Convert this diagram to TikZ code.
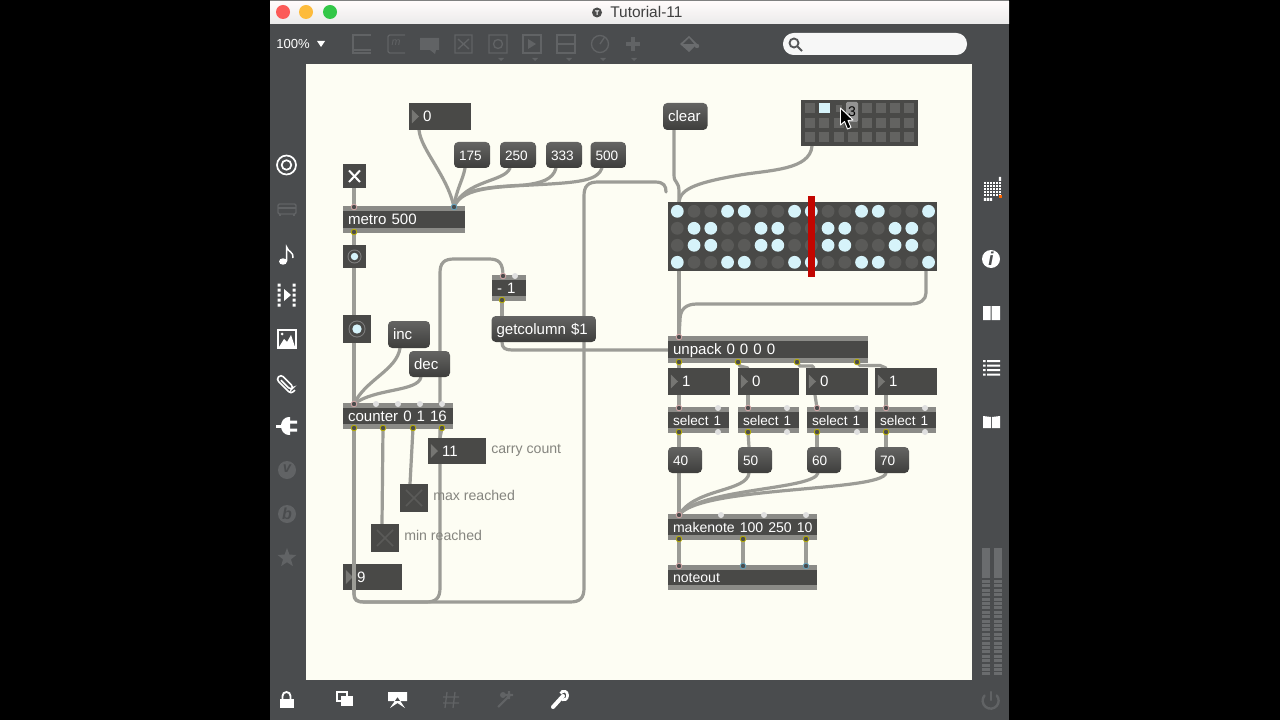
\documentclass[tikz,border=0pt]{standalone}
\usepackage{fontspec}
\setmainfont{Liberation Sans}
\usetikzlibrary{shapes.geometric}
\definecolor{winbg}{HTML}{4A4C4E}
\definecolor{canvasc}{HTML}{FDFDF3}
\definecolor{bodyc}{HTML}{494947}
\definecolor{stripc}{HTML}{8B8B87}
\definecolor{cordc}{HTML}{9C9C96}
\definecolor{dimc}{HTML}{616365}
\definecolor{dimb}{HTML}{6A6C6E}
\definecolor{litc}{HTML}{D6F3FA}
\definecolor{offc}{HTML}{5A5A58}
\definecolor{cellc}{HTML}{636361}
\definecolor{labelc}{HTML}{85857F}
\definecolor{tlred}{HTML}{FC5A58}
\definecolor{tlyel}{HTML}{FDBB3C}
\definecolor{tlgrn}{HTML}{33C748}
\pgfdeclarelayer{bg}\pgfdeclarelayer{cords}\pgfdeclarelayer{over}\pgfdeclarelayer{ports}
\pgfsetlayers{bg,cords,main,over,ports}
\tikzset{
 objtext/.style={text=white,font=\fontsize{11.3}{13}\selectfont,text height=8.1pt,text depth=0pt,anchor=north west,inner ysep=0pt,outer sep=0pt},
 objbox/.style={objtext,fill=bodyc,inner xsep=3.75pt,
  path picture={\fill[stripc] (path picture bounding box.north west) rectangle ([yshift=-3.75pt]path picture bounding box.north east);
   \fill[stripc] (path picture bounding box.south west) rectangle ([yshift=3.75pt]path picture bounding box.south east);}},
 msgbox/.style={objtext,top color=bodyc!85!white,bottom color=bodyc!85!black,rounded corners=3.2pt,inner xsep=3.75pt},
 numbox/.style={objtext,fill=bodyc,inner xsep=10.5pt,
  path picture={\fill[stripc!85!black] ([xshift=2.2pt,yshift=5.2pt]path picture bounding box.west) -- ([xshift=7.5pt]path picture bounding box.west) -- ([xshift=2.2pt,yshift=-5.2pt]path picture bounding box.west) -- cycle;}},
 squarebox/.style={fill=bodyc,anchor=north west,inner sep=0pt,outer sep=0pt},
 cord/.style={draw=cordc,line width=2.4pt,line cap=round},
 inlet/.style={circle,draw=#1,fill=black!70,line width=0.6pt,inner sep=0pt,minimum size=4.2pt},
 inlet/.default={pink!70!gray},
 outlet/.style={circle,draw=olive!60!yellow,fill=black!70,line width=0.6pt,inner sep=0pt,minimum size=4.2pt},
 idle/.style={circle,fill=black!12,inner sep=0pt,minimum size=4.5pt},
 sidetext/.style={text=labelc,font=\fontsize{10.6}{12}\selectfont,anchor=west,inner sep=0pt},
 icond/.style={draw=dimc,line width=1pt},
}
\newcommand\objb[6]{\pgfmathsetmacro\bw{(#4-#2)*0.75}\pgfmathsetmacro\bh{(#5-#3)*0.75}\pgfmathsetmacro\tw{\bw-7.5}%
 \node[objbox,minimum width=\bw pt,minimum height=\bh pt,text width=\tw pt] (#1) at (#2,#3) {\mbox{#6}};}
\newcommand\msgb[6]{\pgfmathsetmacro\bw{(#4-#2)*0.75}\pgfmathsetmacro\bh{(#5-#3)*0.75}\pgfmathsetmacro\tw{\bw-7.5}%
 \node[msgbox,minimum width=\bw pt,minimum height=\bh pt,text width=\tw pt] (#1) at (#2,#3) {\mbox{#6}};}
\newcommand\numb[6]{\pgfmathsetmacro\bw{(#4-#2)*0.75}\pgfmathsetmacro\bh{(#5-#3)*0.75}\pgfmathsetmacro\tw{\bw-21}%
 \node[numbox,minimum width=\bw pt,minimum height=\bh pt,text width=\tw pt] (#1) at (#2,#3) {\mbox{#6}};}
\newcommand\sqb[5]{\pgfmathsetmacro\bw{(#4-#2)*0.75}\pgfmathsetmacro\bh{(#5-#3)*0.75}%
 \node[squarebox,minimum width=\bw pt,minimum height=\bh pt] (#1) at (#2,#3) {};}
\newcommand\fsA{\fontsize{10.2}{12}\selectfont}
\newcommand\fsB{\fontsize{10.55}{12}\selectfont}
\begin{document}
\begin{tikzpicture}[x=0.75pt,y=-0.75pt]
\useasboundingbox (0,0) rectangle (1280,720);
\begin{pgfonlayer}{bg}
\fill[black] (0,0) rectangle (1280,720);
\fill[winbg] (270,24) rectangle (1009,720);
\fill[gray] (270,0) rectangle (1009,1.5);
\shade[top color=white!93!pink,bottom color=black!8] (270,1.5) rectangle (1009,24);
\fill[canvasc] (306,64) rectangle (972,680);
% traffic lights
\fill[tlred] (283,12) circle[radius=7];
\fill[tlyel] (306,12) circle[radius=7];
\fill[tlgrn] (330,12) circle[radius=7];
% toolbar
\draw[icond] (352,35) -- (371,35) (352,53) -- (371,53) (352,50) -- (371,50) (353,35) -- (353,53);
\draw[icond,rounded corners=1.5pt] (405,35) -- (388,35) -- (388,53) -- (405,53);
\node[text=dimc,font=\itshape\fontsize{8}{9}\selectfont,inner sep=0pt] (micon) at (396,43) {m};
\fill[dimc] (420,38) rectangle (439,50) (430,50) -- (436,50) -- (435,54) -- cycle;
\draw[icond] (455,35) rectangle (472,53) (458,39) -- (469,49) (469,39) -- (458,49);
\draw[icond] (489,35) rectangle (507,53) (498,44) circle[radius=4.5];
\draw[icond] (523,35) rectangle (541,53);
\fill[dimc] (528,39) -- (536,44) -- (528,49) -- cycle;
\draw[icond] (557,35) rectangle (575,53) (557,44) -- (575,44);
\draw[icond] (600,44) circle[radius=8.5] (600,44) -- (604,38);
\draw[dimc,line width=2.5pt] (633,37) -- (633,51) (626,44) -- (640,44);
\fill[dimc] (498,58) -- (504,58) -- (501,61) -- cycle (532,58) -- (538,58) -- (535,61) -- cycle (566,58) -- (572,58) -- (569,61) -- cycle (600,58) -- (606,58) -- (603,61) -- cycle (631,58) -- (637,58) -- (634,61) -- cycle;
\fill[dimb] (680,44) -- (689,36) -- (697,44) -- (689,52) -- cycle;
\fill[winbg] (683,44) -- (689,38) -- (694,44) -- cycle;
\fill[dimb] (697,46) circle[radius=2.2];
\node[text=white,font=\fontsize{9.8}{12}\selectfont,anchor=west,inner sep=0pt] (zoomlabel) at (276,44.5) {100\%};
\fill[white] (317,41) -- (325,41) -- (321,47) -- cycle;
% search
\fill[white!97!black] (783,33) [rounded corners=8pt] rectangle (967,55);
\draw[dimb!80!black,line width=1.4pt] (794,43) circle[radius=4.5] (797.5,46.5) -- (802,51);
% left sidebar
\draw[white,line width=1.3pt] (286.5,165) circle[radius=9.5] (286.5,165) circle[radius=4.8];
\draw[dimc,line width=1.1pt,rounded corners=1pt] (278,204) rectangle (296,214);
\draw[dimc,line width=1.1pt] (278,208) -- (296,208) (280,214) -- (280,216) (294,214) -- (294,216);
\fill[white] (283,261.5) ellipse[x radius=4,y radius=3.2];
\draw[white,line width=1.1pt] (286.6,261) -- (286.6,247) .. controls (288,252) and (294,252) .. (293,258);
\fill[white] (284,289) -- (291,295) -- (284,301) -- cycle;
\foreach \yy in {285,290,295,300,305}{\fill[white] (277.5,\yy-1.5) rectangle (280.5,\yy+1.5) (292.5,\yy-1.5) rectangle (295.5,\yy+1.5);}
\draw[white,line width=1pt] (278,330) rectangle (296,348);
\fill[white] (279,347) -- (284,339) -- (287,342) -- (291,335) -- (295,347) -- cycle (282,334) circle[radius=1.5];
\begin{scope}[shift={(286.5,383)},rotate=-45]
\draw[white,line width=1.2pt,rounded corners=2.5pt] (-6,2) -- (8,2) -- (8,-2.2) -- (-10,-2.2) -- (-10,4.6) -- (11,4.6) -- (11,-1);
\end{scope}
\fill[white] (276,424.5) rectangle (284,427.5);
\fill[white] (290,417) -- (290,435) .. controls (283,435) and (281,430) .. (281,426) .. controls (281,422) and (283,417) .. (290,417) -- cycle;
\fill[white] (290,420.5) rectangle (297,423.5) (290,428.5) rectangle (297,431.5);
\fill[dimc] (287,470) circle[radius=9] (287,514) circle[radius=9];
\node[text=winbg,font=\bfseries\itshape\fontsize{11}{12}\selectfont,inner sep=0pt] (viconv) at (287,469) {v};
\node[text=winbg,font=\bfseries\itshape\fontsize{12}{12}\selectfont,inner sep=0pt] (viconb) at (287,514) {b};
\node[star,star points=5,star point ratio=2.4,fill=dimc,inner sep=0pt,minimum size=15pt] (starico) at (287,558) {};
% right sidebar
\foreach \xx in {985,988,991,994,997,1000}{\foreach \yy in {183,186,189,192,195}{\fill[white] (\xx-1.2,\yy-1.2) rectangle (\xx+1.2,\yy+1.2);}}
\fill[white] (998.8,177) rectangle (1001.2,181) (983.8,198) rectangle (986.2,201) (986.8,198) rectangle (989.2,201) (989.8,198) rectangle (992.2,201);
\fill[orange!80!red] (998.8,195) rectangle (1002,198.5);
\fill[white] (991,259) circle[radius=9];
\node[text=winbg,font=\bfseries\itshape\fontsize{14}{14}\selectfont,inner sep=0pt] (iicon) at (991,259) {i};
\fill[white] (983,306) rectangle (990.5,320) (991.5,306) rectangle (1000,320);
\foreach \yy in {361,365.5,370,374.5}{\fill[white] (983,\yy-1) rectangle (985.5,\yy+1) (987,\yy-1) rectangle (1000,\yy+1);}
\fill[white] (983,416) -- (991,417) -- (991,428) -- (983,428) -- cycle (992,417) -- (1000,416) -- (1000,428) -- (992,428) -- cycle;
\foreach \xx in {982,994}{\fill[dimb] (\xx,548) rectangle (\xx+8,578);
 \foreach \yy in {0,...,21}{\fill[dimb] (\xx,580+\yy*4.4) rectangle (\xx+8,583+\yy*4.4);}}
\draw[dimc,line width=1.8pt,line cap=round] (984.5,695.5) arc[start angle=220,end angle=-40,radius=8];
\draw[dimc,line width=1.8pt,line cap=round] (991,692) -- (991,700);
% bottom bar
\fill[white] (279.5,699) rectangle (293.5,708);
\draw[white,line width=1.4pt] (282.5,699) -- (282.5,696) arc[start angle=180,end angle=360,radius=4] -- (290.5,699);
\draw[white,line width=1.2pt] (337,692) rectangle (347,701);
\fill[white] (341,696) rectangle (353,706);
\fill[white] (388,692) rectangle (407,701) (397.5,697) -- (405,708) -- (397.5,703) -- (390,708) -- cycle;
\draw[dimc,line width=1pt] (447,692) -- (445,708) (455,692) -- (453,708) (443,697) -- (459,697) (443,703) -- (459,703);
\draw[dimc,line width=1.6pt] (498,707) -- (510,695) (509,691) -- (509,699) (505,695) -- (513,695);
\fill[dimc] (503,695) circle[radius=3];
\draw[white,line width=3pt,line cap=round] (553,707) -- (563,696);
\draw[white,line width=2pt] (560.5,693.5) arc[start angle=200,end angle=360,radius=3.6] -- (567.5,696) arc[start angle=0,end angle=110,radius=4];
\end{pgfonlayer}

% objects
\numb{num0}{409}{103}{471}{130}{0}
\msgb{m175}{454}{142}{490}{168}{\fsA 175}
\msgb{m250}{500}{142}{536}{168}{\fsA 250}
\msgb{m333}{546}{142}{582}{168}{\fsA 333}
\msgb{m500}{590.5}{142}{626}{168}{\fsA 500}
\sqb{tog}{343}{164.5}{366}{188}
\draw[white,line width=1.5pt] (349,170.5) -- (360,182) (360,170.5) -- (349,182);
\objb{metro}{343}{206}{465}{233}{metro 500}
\sqb{btnA}{343}{245}{366}{268}
\fill[gray] (354.5,256.5) circle[radius=7]; \fill[bodyc] (354.5,256.5) circle[radius=6]; \fill[litc] (354.5,256.5) circle[radius=3.7];
\sqb{btnB}{343}{315}{371}{343}
\fill[gray] (357,329) circle[radius=8.5]; \fill[bodyc] (357,329) circle[radius=7.5]; \fill[litc] (357,329) circle[radius=4.7];
\msgb{minc}{388}{321}{430}{348}{inc}
\msgb{mdec}{409}{351}{450}{377}{dec}
\objb{counter}{343}{403}{453}{429}{counter 0 1 16}
\objb{minus}{492}{275}{526}{301}{- 1}
\msgb{getcol}{491.5}{316}{596}{342}{getcolumn \$1}
\numb{num11}{428}{438}{486}{464}{11}
\node[sidetext] (lcarry) at (491,450) {carry count};
\sqb{togmax}{400}{484}{428}{512}
\draw[offc,line width=1.2pt] (406,490) -- (422,506) (422,490) -- (406,506);
\node[sidetext] (lmax) at (433,495) {max reached};
\sqb{togmin}{371}{524}{399}{552}
\draw[offc,line width=1.2pt] (377,530) -- (393,546) (393,530) -- (377,546);
\node[sidetext] (lmin) at (404,535) {min reached};
\numb{num9}{343}{564}{402}{590}{9}
\msgb{mclear}{663}{103}{707.5}{130}{clear}

% small matrix
\sqb{smallm}{801}{100}{918}{146}
\foreach \xx in {810,824.3,838.7,852.7,867,881,895.3,909.3}{\foreach \yy in {108.3,122.7,136.7}{\fill[cellc] (\xx-5,\yy-5) rectangle (\xx+5,\yy+5);}}
\fill[bodyc] (833,102) rectangle (845,115);
\fill[cellc] (835.5,105) rectangle (842,112);
\fill[litc] (819,103) rectangle (829.5,113.5);
\fill[gray!85!white] (846,102) [rounded corners=1pt] rectangle (858,122);
\node[text=black,font=\fontsize{10.5}{12}\selectfont,inner sep=0pt] (tip3) at (852,112) {3};
\draw[white,fill=black,line width=0.7pt,line join=round] (840.5,108) -- (840.5,125) -- (844.5,121.5) -- (847.5,129) -- (851,127.5) -- (848,120.5) -- (853,120) -- cycle;

% big matrix
\sqb{bigm}{668}{202}{937}{271}
\foreach \cc in {0,3,4,7,8,11,12,15}{\foreach \rr in {0,3}{\fill[litc] (677.3+16.75*\cc,211.3+17*\rr) circle[radius=6.4];}
  \foreach \rr in {1,2}{\fill[offc] (677.3+16.75*\cc,211.3+17*\rr) circle[radius=6.4];}}
\foreach \cc in {1,2,5,6,9,10,13,14}{\foreach \rr in {1,2}{\fill[litc] (677.3+16.75*\cc,211.3+17*\rr) circle[radius=6.4];}
  \foreach \rr in {0,3}{\fill[offc] (677.3+16.75*\cc,211.3+17*\rr) circle[radius=6.4];}}
\fill[red!75!black!95!orange] (808,196) rectangle (815,277);

\objb{unpack}{668}{336}{868}{363}{unpack 0 0 0 0}
\numb{nA}{668}{368}{730}{395}{1}
\numb{nB}{738}{368}{799}{395}{0}
\numb{nC}{806}{368}{868}{395}{0}
\numb{nD}{875}{368}{937}{395}{1}
\objb{selA}{668}{407}{729}{433}{\fsA select 1}
\objb{selB}{738}{407}{799}{433}{\fsA select 1}
\objb{selC}{807}{407}{868}{433}{\fsA select 1}
\objb{selD}{875}{407}{936}{433}{\fsA select 1}
\msgb{m40}{668}{447}{702}{473}{\fsA 40}
\msgb{m50}{738}{447}{772}{473}{\fsA 50}
\msgb{m60}{807}{447}{841}{473}{\fsA 60}
\msgb{m70}{875}{447}{909}{473}{\fsA 70}
\objb{makenote}{668}{514}{817}{540}{\fsB makenote 100 250 10}
\objb{noteout}{668}{565}{817}{590}{\fsB noteout}

% free end points of cords
\coordinate (num0o) at (419,130);
\coordinate (m175o) at (465,168);
\coordinate (m250o) at (510,168);
\coordinate (m333o) at (556,168);
\coordinate (m500o) at (602,168);
\coordinate (togo) at (354,188);
\coordinate (btnAi) at (354,245);
\coordinate (btnAo) at (354,268);
\coordinate (btnBi) at (354,315);
\coordinate (btnBo) at (354,343);
\coordinate (inco) at (400,348);
\coordinate (deco) at (421,377);
\coordinate (n11i) at (440,438);
\coordinate (mini) at (382,524);
\coordinate (maxi) at (410,484);
\coordinate (n9o) at (354,590);
\coordinate (gci) at (502,316);
\coordinate (gco) at (502,342);
\coordinate (clro) at (674,130);
\coordinate (smo) at (812,146);
\coordinate (bigi) at (679,202);
\coordinate (bigol) at (679,271);
\coordinate (bigor) at (926,271);
\coordinate (cordend) at (666,192);
\coordinate (nAi) at (679,368);\coordinate (nBi) at (748,368);\coordinate (nCi) at (814,368);\coordinate (nDi) at (886,368);
\coordinate (nAo) at (679,395);\coordinate (nBo) at (748,395);\coordinate (nCo) at (815,395);\coordinate (nDo) at (886,395);
\coordinate (m40i) at (679,447);\coordinate (m50i) at (749,447);\coordinate (m60i) at (817,447);\coordinate (m70i) at (886,447);
\coordinate (m40o) at (679,473);\coordinate (m50o) at (749,473);\coordinate (m60o) at (818,473);\coordinate (m70o) at (886,473);

% ports
\begin{pgfonlayer}{ports}
\node[inlet] (metI1) at (354,207) {};
\node[inlet=cyan!50!gray] (metI2) at (454,207) {};
\node[outlet] (metO) at (354,232) {};
\node[inlet] (cntI) at (354,404) {};
\foreach \xx in {376,398,420,442}{\node[idle] at (\xx,404) {};}
\node[outlet] (cntO1) at (354,428) {};
\node[outlet] (cntO2) at (383,428) {};
\node[outlet] (cntO3) at (413,428) {};
\node[outlet] (cntO4) at (442,428) {};
\node[inlet] (minI) at (503,276) {};
\node[idle] (minI2) at (515,276) {};
\node[outlet] (minO) at (502,300) {};
\node[inlet] (upI) at (679,337) {};
\node[outlet] (upO1) at (679,362) {};
\node[outlet] (upO2) at (738,362) {};
\node[outlet] (upO3) at (797,362) {};
\node[outlet] (upO4) at (857,362) {};
\foreach \nm/\xx in {A/679,B/748,C/817,D/886}{\node[inlet] (sel\nm I) at (\xx,408) {}; \node[outlet] (sel\nm O) at (\xx,432) {};}
\foreach \xx in {718,787,857,925}{\node[idle] at (\xx,408) {}; \node[idle] at (\xx,432) {};}
\node[inlet] (mkI) at (679,515) {};
\foreach \xx in {721,764,806}{\node[idle] at (\xx,515) {};}
\node[outlet] (mkO1) at (679,539) {};
\node[outlet] (mkO2) at (743,539) {};
\node[outlet] (mkO3) at (806,539) {};
\node[inlet] (noI1) at (679,566) {};
\node[inlet=cyan!50!gray] (noI2) at (743,566) {};
\node[inlet=cyan!50!gray] (noI3) at (806,566) {};
\end{pgfonlayer}

% cords
\begin{pgfonlayer}{cords}
\draw[cord] (num0o) .. controls (421,150) and (447,175) .. (metI2.center);
\draw[cord] (m175o) .. controls (463,180) and (456,190) .. (metI2.center);
\draw[cord] (m250o) .. controls (505,182) and (465,180) .. (metI2.center);
\draw[cord] (m333o) .. controls (553,180) and (540,183) .. (525,185) .. controls (490,187) and (460,188) .. (metI2.center);
\draw[cord] (m500o) .. controls (598,180) and (580,182) .. (550,184) .. controls (500,187) and (462,186) .. (metI2.center);
\draw[cord] (togo) -- (metI1.center);
\draw[cord] (metO.center) -- (btnAi);
\draw[cord] (btnAo) -- (btnBi);
\draw[cord] (btnBo) -- (cntI.center);
\draw[cord] (inco) .. controls (397,370) and (365,380) .. (cntI.center);
\draw[cord] (deco) .. controls (418,392) and (375,388) .. (cntI.center);
\draw[cord] (cntO2.center) -- (mini);
\draw[cord] (cntO3.center) -- (maxi);
\draw[cord] (cntO4.center) -- (n11i);
\draw[cord] (n9o) -- (354,594) .. controls (354,600) and (357,602) .. (364,602) -- (570,602) .. controls (580,602) and (584,598) .. (584,588) -- (584,196) .. controls (584,186) and (588,182) .. (598,182) -- (655,182) .. controls (664,182) and (666,186) .. (cordend);
\draw[cord] (n9o) -- (354,594) .. controls (354,600) and (357,602) .. (364,602) -- (426,602) .. controls (436,602) and (440,598) .. (440,588) -- (440,273) .. controls (440,263) and (444,259) .. (454,259) -- (489,259) .. controls (499,259) and (503,263) .. (minI.center);
\draw[cord] (minO.center) -- (gci);
\draw[cord] (gco) .. controls (502,348) and (505,350) .. (512,350) -- (675,350) -- (upI.center);
\draw[cord] (clro) -- (674,175) .. controls (674,184) and (679,180) .. (679,192) -- (bigi);
\draw[cord] (smo) .. controls (810,170) and (770,170) .. (740,175) .. controls (700,182) and (680,188) .. (bigi);
\draw[cord] (bigol) -- (upI.center);
\draw[cord] (bigor) -- (926,293) .. controls (926,300) and (920,304) .. (910,304) -- (697,304) .. controls (685,304) and (680,310) .. (680,320) -- (upI.center);
\draw[cord] (upO1.center) -- (nAi);
\draw[cord] (upO2.center) -- (740,366) -- (nBi);
\draw[cord] (upO3.center) -- (800,366) -- (812,366) -- (nCi);
\draw[cord] (upO4.center) -- (860,365.5) -- (880,365.5) -- (nDi);
\draw[cord] (nAo) -- (selAI.center);
\draw[cord] (nBo) -- (selBI.center);
\draw[cord] (nCo) -- (selCI.center);
\draw[cord] (nDo) -- (selDI.center);
\draw[cord] (selAO.center) -- (m40i);
\draw[cord] (selBO.center) -- (m50i);
\draw[cord] (selCO.center) -- (m60i);
\draw[cord] (selDO.center) -- (m70i);
\draw[cord] (m40o) -- (mkI.center);
\draw[cord] (m50o) .. controls (747,492) and (695,488) .. (mkI.center);
\draw[cord] (m60o) .. controls (814,490) and (700,488) .. (mkI.center);
\draw[cord] (m70o) .. controls (882,492) and (700,486) .. (mkI.center);
\end{pgfonlayer}
\begin{pgfonlayer}{over}
\draw[cord] (cntO1.center) -- (n9o);
\draw[cord] (mkO1.center) -- (noI1.center);
\draw[cord] (mkO2.center) -- (noI2.center);
\draw[cord] (mkO3.center) -- (noI3.center);
\end{pgfonlayer}
% title
\begin{pgfonlayer}{ports}
\fill[black!70] (597,12.5) circle[radius=5];
\fill[white] (595,10.5) rectangle (599,11.5) (596.5,11) rectangle (597.5,15);
\node[text=black!75,font=\fontsize{11.6}{13}\selectfont,anchor=west,inner sep=0pt] (title) at (610,12) {Tutorial-11};
\end{pgfonlayer}
\end{tikzpicture}
\end{document}
